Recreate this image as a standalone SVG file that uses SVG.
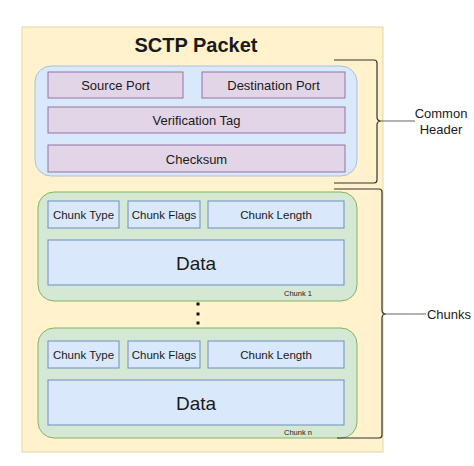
<svg xmlns="http://www.w3.org/2000/svg" width="474" height="466" viewBox="0 0 474 466">
<style>
text{font-family:"Liberation Sans",Arial,sans-serif;fill:#1a1a1a;text-anchor:middle}
.f{font-size:13px}
.p{fill:#e1d5e7;stroke:#9673a6;stroke-width:1}
.b{fill:#dae8fc;stroke:#6c8ebf;stroke-width:1}
.g{fill:#d5e8d4;stroke:#82b366;stroke-width:1}
.br{fill:none;stroke:#333;stroke-width:1.2}
.ln{fill:none;stroke:#666;stroke-width:1.2}
</style>
<rect width="474" height="466" fill="#fff"/>
<g id="packet">
<rect x="22" y="27" width="361" height="425" fill="#fff2cc" stroke="#e6d7a3"/>
<text x="196" y="52" style="font-size:20px;font-weight:bold">SCTP Packet</text>
</g>
<g id="header">
<rect x="35" y="66" width="322" height="110" rx="16" fill="#dae8fc" stroke="#a9bfe0"/>
</g>
<g id="source-port"><rect class="p" x="48" y="72" width="135" height="26"/><text class="f" x="115.5" y="90">Source Port</text></g>
<g id="destination-port"><rect class="p" x="202" y="72" width="143" height="26"/><text class="f" x="273.5" y="90">Destination Port</text></g>
<g id="verification-tag"><rect class="p" x="48" y="107" width="297" height="26"/><text class="f" x="196.5" y="125">Verification Tag</text></g>
<g id="checksum"><rect class="p" x="48" y="145" width="297" height="27"/><text class="f" x="196.5" y="164">Checksum</text></g>

<g id="chunk1">
<rect class="g" x="38" y="192" width="319" height="109" rx="16" stroke="#b5d3a8"/>
<rect class="b" x="48" y="201" width="71" height="27"/><text style="font-size:11.5px" x="83.5" y="219">Chunk Type</text>
<rect class="b" x="128" y="201" width="72" height="27"/><text style="font-size:11.5px" x="164" y="219">Chunk Flags</text>
<rect class="b" x="208" y="201" width="136" height="27"/><text style="font-size:11.5px" x="276" y="219">Chunk Length</text>
<rect class="b" x="48" y="240" width="296" height="45"/><text style="font-size:19px" x="196" y="270">Data</text>
<text style="font-size:7.5px" x="298" y="296">Chunk 1</text>
</g>
<g id="dots" fill="#111">
<rect x="196.5" y="302.5" width="3" height="3"/>
<rect x="196.5" y="312.5" width="3" height="3"/>
<rect x="196.5" y="321.5" width="3" height="3"/>
</g>
<g id="chunkn">
<rect class="g" x="38" y="328" width="319" height="110" rx="16" stroke="#b5d3a8"/>
<rect class="b" x="48" y="341" width="71" height="27"/><text style="font-size:11.5px" x="83.5" y="359">Chunk Type</text>
<rect class="b" x="128" y="341" width="72" height="27"/><text style="font-size:11.5px" x="164" y="359">Chunk Flags</text>
<rect class="b" x="208" y="341" width="136" height="27"/><text style="font-size:11.5px" x="276" y="359">Chunk Length</text>
<rect class="b" x="48" y="380" width="296" height="45"/><text style="font-size:19px" x="196" y="410">Data</text>
<text style="font-size:7.5px" x="298" y="435">Chunk n</text>
</g>
<g id="connectors">
<path class="br" d="M334 60 H374 Q377 60 377 63 V117 Q377 121 381 121 Q377 121 377 125 V180 Q377 183 374 183 H334"/>
<path class="br" d="M334 189 H379 Q382 189 382 192 V310 Q382 314 386 314 Q382 314 382 318 V435 Q382 438 379 438 H337"/>
<path class="ln" d="M381 121 H415"/>
<path class="ln" d="M386 314 H426"/>
</g>
<g id="common-header-label"><text class="f" x="441" y="118">Common</text><text class="f" x="441" y="134">Header</text></g>
<g id="chunks-label"><text class="f" x="449" y="319">Chunks</text></g>
</svg>
